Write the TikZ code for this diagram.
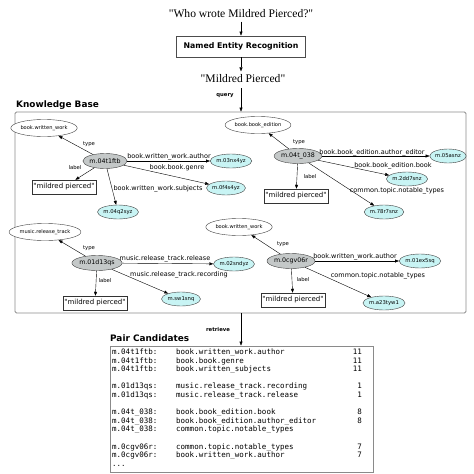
\documentclass[tikz,border=0pt]{standalone}
\usepackage{fontspec}
\setmainfont{Liberation Serif}
\setsansfont{DejaVu Sans}
\setmonofont{DejaVu Sans Mono}
\usetikzlibrary{arrows.meta,shapes.geometric}
\definecolor{entgray}{HTML}{C4C8C8}
\definecolor{objcyan}{HTML}{C8F4F4}
\definecolor{boxgray}{HTML}{8A8A8A}
\newcommand{\qt}[1]{\textquotedbl#1\textquotedbl}
\begin{document}
\begin{tikzpicture}[x=1pt,y=-1pt,>={Triangle[length=4pt,width=3pt]},
 ent/.style={draw=black!75,ellipse,fill=entgray,minimum width=40pt,minimum height=15pt,inner sep=0pt,font=\sffamily\fontsize{6.3}{7}\selectfont},
 obj/.style={draw=black!75,ellipse,fill=objcyan,minimum width=39pt,minimum height=14pt,inner sep=0pt,font=\sffamily\fontsize{5.3}{6}\selectfont},
 typ/.style={draw=black!75,ellipse,fill=white,minimum height=17pt,inner sep=0pt,font=\sffamily\fontsize{5.1}{6}\selectfont},
 lab/.style={draw=black!80,rectangle,minimum width=64pt,minimum height=14pt,inner sep=0pt,font=\sffamily\fontsize{7}{8}\selectfont},
 el/.style={font=\sffamily\fontsize{6.5}{8}\selectfont,inner sep=0pt},
 sl/.style={font=\sffamily\fontsize{5.3}{6}\selectfont,inner sep=0pt},
 hd/.style={font=\sffamily\bfseries\fontsize{8.9}{10}\selectfont,inner sep=0pt,anchor=west},
 pl/.style={font=\ttfamily\fontsize{7.5}{8}\selectfont,inner sep=0pt}]
\useasboundingbox (0,0) rectangle (474,474);
% pipeline
\node[font=\fontsize{11.6}{13}\selectfont] (quest) at (241,14) {\qt{Who wrote Mildred Pierced?}};
\node[draw=black!70,thick,minimum width=129pt,minimum height=21pt,inner sep=0pt,font=\sffamily\bfseries\fontsize{7.8}{9}\selectfont] (ner) at (241,46.5) {Named Entity Recognition};
\node[font=\fontsize{11.6}{13}\selectfont] (ment) at (243,79) {\qt{Mildred Pierced}};
\draw[->] (quest) -- (ner);
\draw[->] (ner) -- (ner |- ment.north);
% knowledge base
\node[hd] at (16,105) {Knowledge Base};
\node[draw=boxgray,thick,rounded corners=1.5pt,minimum width=451pt,minimum height=201pt,inner sep=0pt] (kb) at (240.5,212.5) {};
\draw[->] (241,88) coordinate (mq) -- (mq |- kb.north);
\node[sl,font=\sffamily\bfseries\fontsize{5.3}{6}\selectfont] at (225,96) {query};
% m.04t1ftb
\node[ent] (e1) at (105,161) {m.04t1ftb};
\node[typ,minimum width=56pt] (t1) at (44,128) {book.written\_work};
\node[lab] (l1) at (64,187) {\qt{mildred pierced}};
\node[obj] (o11) at (231,161) {m.03nx4yz};
\node[obj] (o12) at (226,188) {m.0f4s4yz};
\node[obj] (o13) at (118,212) {m.04q2syz};
\draw[->] (e1) -- (t1); \draw[->] (e1) -- (l1);
\draw[->] (e1) -- (o11); \draw[->] (e1) -- (o12); \draw[->] (e1) -- (o13);
\node[sl] at (89,144) {type};
\node[sl] at (75,168) {label};
\node[el] at (169,156.5) {book.written\_work.author};
\node[el] at (177,168) {book.book.genre};
\node[el] at (158,189) {book.written\_work.subjects};
% m.04t_038
\node[ent] (e2) at (298,156) {m.04t\_038};
\node[typ,minimum width=55pt] (t2) at (258,125) {book.book\_edition};
\node[lab] (l2) at (296,196) {\qt{mildred pierced}};
\node[obj,minimum width=34pt] (o21) at (448,156) {m.05asnz};
\node[obj] (o22) at (407,179) {m.2dd7snz};
\node[obj] (o23) at (384,212) {m.78r7snz};
\draw[->] (e2) -- (t2); \draw[->] (e2) -- (l2);
\draw[->] (e2) -- (o21); \draw[->] (e2) -- (o22); \draw[->] (e2) -- (o23);
\node[sl] at (299,142) {type};
\node[sl] at (310,177) {label};
\node[el] at (372,152.5) {book.book\_edition.author\_editor};
\node[el] at (393,166) {book.book\_edition.book};
\node[el] at (397,191) {common.topic.notable\_types};
% m.01d13qs
\node[ent] (e3) at (97,263) {m.01d13qs};
\node[typ,minimum width=59pt] (t3) at (45,232) {music.release\_track};
\node[lab] (l3) at (95,303) {\qt{mildred pierced}};
\node[obj] (o31) at (234,264) {m.02sndyz};
\node[obj] (o32) at (181,299) {m.sw1snq};
\draw[->] (e3) -- (t3); \draw[->] (e3) -- (l3);
\draw[->] (e3) -- (o31); \draw[->] (e3) -- (o32);
\node[sl] at (89,248) {type};
\node[sl] at (105,281) {label};
\node[el] at (165,259) {music.release\_track.release};
\node[el] at (179,275) {music.release\_track.recording};
% m.0cgv06r
\node[ent] (e4) at (291,261) {m.0cgv06r};
\node[typ,minimum width=60pt] (t4) at (239,227) {book.written\_work};
\node[lab] (l4) at (293,300) {\qt{mildred pierced}};
\node[obj] (o41) at (420,261) {m.01ex5sq};
\node[obj] (o42) at (384,303) {m.a23tyw1};
\draw[->] (e4) -- (t4); \draw[->] (e4) -- (l4);
\draw[->] (e4) -- (o41); \draw[->] (e4) -- (o42);
\node[sl] at (283,244) {type};
\node[sl] at (303,280) {label};
\node[el] at (355,256.5) {book.written\_work.author};
\node[el] at (378,276) {common.topic.notable\_types};
% pair candidates
\node[hd] at (110,338) {Pair Candidates};
\node[draw=boxgray,thick,minimum width=263pt,minimum height=126pt,inner sep=0pt] (pc) at (241.5,409) {};
\draw[->] (kb.south -| mq) -- (mq |- pc.north);
\node[sl,font=\sffamily\bfseries\fontsize{5.3}{6}\selectfont] at (218,330) {retrieve};
\foreach \y/\a/\b/\c in {352/m.04t1ftb:/book.written\_work.author/11,
  360.6/m.04t1ftb:/book.book.genre/11,
  369.2/m.04t1ftb:/book.written\_subjects/11,
  386.4/m.01d13qs:/music.release\_track.recording/1,
  395/m.01d13qs:/music.release\_track.release/1,
  412.2/m.04t\_038:/book.book\_edition.book/8,
  420.8/m.04t\_038:/book.book\_edition.author\_editor/8,
  429.4/m.04t\_038:/common.topic.notable\_types/,
  446.6/m.0cgv06r:/common.topic.notable\_types/7,
  455.2/m.0cgv06r:/book.written\_work.author/7}{
  \node[pl,anchor=base west] at (112,\y+2.5) {\a};
  \node[pl,anchor=base west] at (176,\y+2.5) {\b};
  \node[pl,anchor=base east] at (362,\y+2.5) {\c};
}
\node[pl,anchor=base west] at (112,466) {...};
\end{tikzpicture}
\end{document}
